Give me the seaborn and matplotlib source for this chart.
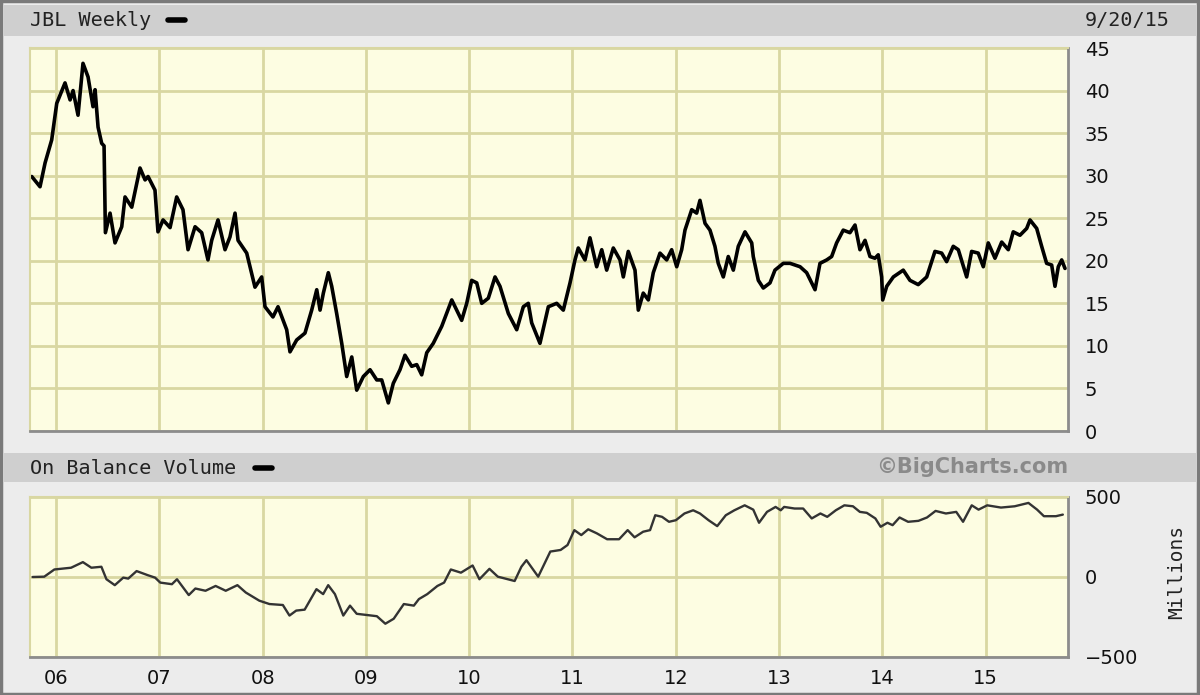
import numpy as np
import pandas as pd
import matplotlib
matplotlib.use("Agg")
import matplotlib.pyplot as plt
from matplotlib.patches import Rectangle
from matplotlib.lines import Line2D
import seaborn as sns

# JBL weekly close (decimal year, price)
price_year = [
    2005.765, 2005.845, 2005.894, 2005.958, 2006.007, 2006.087, 2006.136, 2006.165, 2006.213, 2006.261,
    2006.310, 2006.358, 2006.378, 2006.407, 2006.442, 2006.465, 2006.474, 2006.478, 2006.523, 2006.571,
    2006.636, 2006.668, 2006.733, 2006.813, 2006.862, 2006.891, 2006.958, 2006.987, 2007.036, 2007.104,
    2007.168, 2007.229, 2007.278, 2007.346, 2007.410, 2007.471, 2007.507, 2007.568, 2007.636, 2007.684,
    2007.733, 2007.762, 2007.846, 2007.926, 2007.991, 2008.023, 2008.100, 2008.149, 2008.233, 2008.265,
    2008.330, 2008.410, 2008.475, 2008.524, 2008.556, 2008.588, 2008.636, 2008.669, 2008.717, 2008.766,
    2008.814, 2008.863, 2008.911, 2008.975, 2009.040, 2009.105, 2009.153, 2009.217, 2009.265, 2009.330,
    2009.378, 2009.443, 2009.492, 2009.540, 2009.589, 2009.652, 2009.734, 2009.831, 2009.879, 2009.927,
    2009.976, 2010.024, 2010.073, 2010.121, 2010.185, 2010.250, 2010.298, 2010.379, 2010.460, 2010.524,
    2010.572, 2010.605, 2010.685, 2010.766, 2010.847, 2010.911, 2010.976, 2011.024, 2011.056, 2011.121,
    2011.169, 2011.234, 2011.283, 2011.331, 2011.395, 2011.460, 2011.492, 2011.540, 2011.605, 2011.637,
    2011.685, 2011.734, 2011.782, 2011.847, 2011.912, 2011.960, 2012.009, 2012.057, 2012.089, 2012.154,
    2012.202, 2012.234, 2012.283, 2012.331, 2012.379, 2012.411, 2012.460, 2012.508, 2012.557, 2012.605,
    2012.670, 2012.735, 2012.750, 2012.799, 2012.847, 2012.912, 2012.960, 2013.041, 2013.106, 2013.203,
    2013.267, 2013.348, 2013.396, 2013.461, 2013.509, 2013.557, 2013.621, 2013.686, 2013.735, 2013.783,
    2013.832, 2013.880, 2013.928, 2013.960, 2013.993, 2014.003, 2014.042, 2014.106, 2014.202, 2014.267,
    2014.347, 2014.429, 2014.509, 2014.574, 2014.622, 2014.686, 2014.735, 2014.816, 2014.864, 2014.928,
    2014.977, 2015.025, 2015.090, 2015.155, 2015.219, 2015.267, 2015.332, 2015.397, 2015.429, 2015.494,
    2015.542, 2015.590, 2015.639, 2015.671, 2015.703, 2015.736, 2015.768,
]
price = [
    29.9, 28.7, 31.5, 34.2, 38.5, 40.9, 38.9, 40.0, 37.1, 43.2,
    41.6, 38.1, 40.1, 35.7, 33.8, 33.5, 26.3, 23.3, 25.6, 22.1,
    24.0, 27.5, 26.3, 30.9, 29.5, 29.9, 28.3, 23.4, 24.8, 23.9,
    27.5, 26.0, 21.3, 24.0, 23.3, 20.1, 22.4, 24.8, 21.3, 22.8,
    25.6, 22.4, 20.9, 16.9, 18.1, 14.6, 13.4, 14.6, 11.9, 9.3,
    10.7, 11.5, 14.2, 16.6, 14.2, 16.2, 18.6, 17.0, 13.8, 10.3,
    6.4, 8.7, 4.8, 6.4, 7.2, 6.0, 6.0, 3.3, 5.6, 7.2,
    8.9, 7.6, 7.8, 6.6, 9.2, 10.3, 12.3, 15.4, 14.2, 13.0,
    15.0, 17.7, 17.4, 15.0, 15.6, 18.1, 17.0, 13.8, 11.9, 14.6,
    15.0, 12.7, 10.3, 14.6, 15.0, 14.2, 17.4, 20.1, 21.5, 20.1,
    22.7, 19.3, 21.3, 18.9, 21.5, 20.1, 18.1, 21.1, 18.9, 14.2,
    16.2, 15.4, 18.6, 20.9, 20.1, 21.3, 19.3, 21.3, 23.6, 26.0,
    25.6, 27.1, 24.4, 23.6, 21.7, 19.7, 18.1, 20.5, 18.9, 21.7,
    23.4, 22.1, 20.5, 17.7, 16.8, 17.4, 18.9, 19.7, 19.7, 19.3,
    18.6, 16.6, 19.7, 20.1, 20.5, 22.1, 23.6, 23.3, 24.2, 21.3,
    22.4, 20.5, 20.3, 20.7, 18.1, 15.4, 17.0, 18.1, 18.9, 17.7,
    17.2, 18.1, 21.1, 20.9, 19.9, 21.7, 21.3, 18.1, 21.1, 20.9,
    19.3, 22.1, 20.3, 22.2, 21.3, 23.4, 23.0, 23.8, 24.8, 23.8,
    21.7, 19.7, 19.5, 17.0, 19.3, 20.1, 19.1,
]

# On Balance Volume, millions
obv_year = [
    2005.773, 2005.886, 2005.984, 2006.146, 2006.260, 2006.342, 2006.439, 2006.488, 2006.569, 2006.651,
    2006.699, 2006.780, 2006.894, 2006.959, 2007.009, 2007.122, 2007.171, 2007.285, 2007.349, 2007.447,
    2007.545, 2007.643, 2007.756, 2007.837, 2007.968, 2008.066, 2008.196, 2008.260, 2008.325, 2008.407,
    2008.521, 2008.586, 2008.635, 2008.700, 2008.781, 2008.846, 2008.911, 2009.106, 2009.188, 2009.269,
    2009.367, 2009.464, 2009.513, 2009.594, 2009.692, 2009.757, 2009.822, 2009.920, 2010.033, 2010.099,
    2010.196, 2010.277, 2010.440, 2010.505, 2010.554, 2010.668, 2010.785, 2010.885, 2010.952, 2011.018,
    2011.085, 2011.152, 2011.235, 2011.335, 2011.451, 2011.534, 2011.601, 2011.684, 2011.751, 2011.801,
    2011.867, 2011.934, 2012.001, 2012.084, 2012.168, 2012.234, 2012.317, 2012.401, 2012.484, 2012.567,
    2012.667, 2012.750, 2012.806, 2012.883, 2012.966, 2013.016, 2013.049, 2013.150, 2013.233, 2013.316,
    2013.400, 2013.466, 2013.549, 2013.632, 2013.715, 2013.782, 2013.849, 2013.932, 2013.983, 2014.049,
    2014.099, 2014.166, 2014.249, 2014.349, 2014.432, 2014.515, 2014.615, 2014.715, 2014.781, 2014.865,
    2014.931, 2015.015, 2015.148, 2015.281, 2015.414, 2015.498, 2015.564, 2015.680, 2015.747,
]
obv = [
    0, 2, 47, 58, 93, 58, 64, -14, -51, -4,
    -10, 37, 10, -4, -35, -45, -14, -113, -72, -86,
    -56, -86, -51, -97, -148, -169, -175, -241, -210, -204,
    -76, -107, -51, -107, -241, -179, -230, -245, -292, -261,
    -169, -179, -138, -107, -56, -35, 47, 27, 72, -14,
    51, 2, -25, 64, 105, 2, 159, 169, 200, 293,
    262, 298, 273, 236, 236, 293, 248, 283, 293, 386,
    376, 345, 355, 397, 417, 397, 355, 318, 386, 417,
    448, 421, 339, 407, 438, 417, 438, 428, 428, 366,
    397, 376, 417, 448, 442, 407, 401, 366, 314, 339,
    324, 372, 345, 351, 372, 413, 397, 407, 345, 448,
    421, 448, 434, 442, 463, 421, 380, 380, 390,
]

year_ticks = list(range(2006, 2016))
year_labels = ["06", "07", "08", "09", "10", "11", "12", "13", "14", "15"]
price_ticks = [0, 5, 10, 15, 20, 25, 30, 35, 40, 45]
obv_ticks = [-500, 0, 500]

price_df = pd.DataFrame({"year": price_year, "price": price})
obv_df = pd.DataFrame({"year": obv_year, "obv": obv})

sns.set_style("white")
plt.rcParams["font.family"] = ["DejaVu Sans"]

W, H = 1200, 695
fig = plt.figure(figsize=(W / 100, H / 100), dpi=100)
fig.patch.set_facecolor("#ececec")

bg = "#fdfde2"
grid_c = "#d9d7a2"
xlim = (2005.748, 2015.797)


def fx(px):
    return px / W


def fy(py):
    return 1 - py / H


# header bands
for top, bot in [(5, 36), (453, 482)]:
    fig.add_artist(Rectangle((fx(4), fy(bot)), fx(1192), (bot - top) / H,
                             transform=fig.transFigure, facecolor="#cfcfcf",
                             edgecolor="none", zorder=0))
# outer frame
fig.add_artist(Rectangle((0.001, 0.002), 0.997, 0.996, transform=fig.transFigure,
                         fill=False, edgecolor="#7a7a7a", linewidth=2.5))

ax1 = fig.add_axes([fx(30), fy(431), fx(1038), 383 / H])
ax2 = fig.add_axes([fx(30), fy(657), fx(1038), 160 / H])

sns.lineplot(data=price_df, x="year", y="price", ax=ax1, color="black",
             linewidth=2.6, estimator=None, sort=False)
sns.lineplot(data=obv_df, x="year", y="obv", ax=ax2, color="#333333",
             linewidth=1.7, estimator=None, sort=False)

for ax in (ax1, ax2):
    ax.set_facecolor(bg)
    ax.set_xlim(*xlim)
    ax.set_xticks(year_ticks)
    ax.grid(True, color=grid_c, linewidth=2)
    ax.set_axisbelow(True)
    ax.yaxis.tick_right()
    ax.tick_params(axis="both", length=0, labelsize=14, colors="#111111")
    ax.tick_params(axis="y", pad=12)
    ax.set_xlabel("")
    ax.set_ylabel("")
    for s in ("top", "left"):
        ax.spines[s].set_color(grid_c)
        ax.spines[s].set_linewidth(1.5)
    for s in ("bottom", "right"):
        ax.spines[s].set_color("#8c8c8c")
        ax.spines[s].set_linewidth(2)

ax1.set_ylim(0, 45)
ax1.set_yticks(price_ticks)
ax1.set_xticklabels([])

ax2.set_ylim(-500, 500)
ax2.set_yticks(obv_ticks)
ax2.set_yticklabels(["\u2212500" if t < 0 else str(t) for t in obv_ticks])
ax2.set_xticklabels(year_labels)
ax2.tick_params(axis="x", pad=9)

mono = "DejaVu Sans Mono"
fig.text(fx(30), fy(20), "JBL Weekly", family=mono, fontsize=14.5,
         va="center", ha="left", color="#222222")
fig.add_artist(Line2D([fx(168), fx(185)], [fy(20), fy(20)], transform=fig.transFigure,
                      color="black", linewidth=4, solid_capstyle="round"))
fig.text(fx(1170), fy(20), "9/20/15", family=mono, fontsize=14.5,
         va="center", ha="right", color="#222222")

fig.text(fx(30), fy(468), "On Balance Volume", family=mono, fontsize=14.5,
         va="center", ha="left", color="#222222")
fig.add_artist(Line2D([fx(255), fx(272)], [fy(468), fy(468)], transform=fig.transFigure,
                      color="black", linewidth=4, solid_capstyle="round"))
fig.text(fx(1068), fy(467), "\u00a9BigCharts.com", fontsize=15, fontweight="bold",
         va="center", ha="right", color="#8a8a8a")

fig.text(fx(1177), fy(572), "Millions", family=mono, fontsize=14, rotation=90,
         va="center", ha="center", color="#222222")

fig.savefig("out.png", dpi=100, facecolor=fig.get_facecolor())
